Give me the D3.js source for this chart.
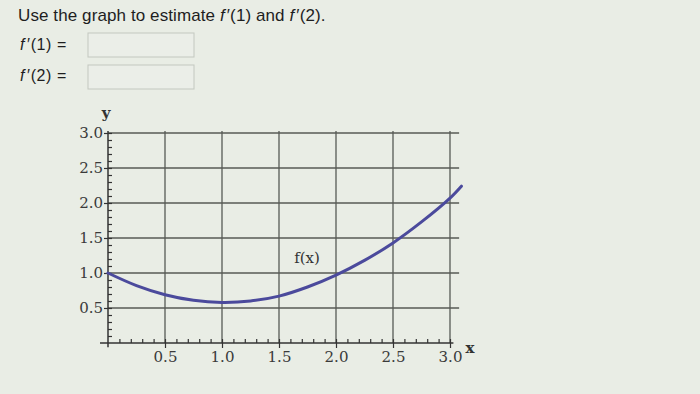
<!DOCTYPE html>
<html>
<head>
<meta charset="utf-8">
<script src="https://cdn.jsdelivr.net/npm/d3@7"></script>
<style>
  html, body { margin: 0; padding: 0; background: #e9ede5; }
  svg { display: block; }
</style>
</head>
<body>
<svg id="chart" width="700" height="394"></svg>
<script>
// ---- data ----
const curveX = [0, 0.25, 0.5, 0.75, 1.0, 1.25, 1.5, 1.75, 2.0, 2.25, 2.5, 2.75, 3.0, 3.1];
const curveY = [1.0, 0.82, 0.69, 0.61, 0.58, 0.60, 0.67, 0.80, 0.97, 1.18, 1.43, 1.73, 2.07, 2.24];
const xTicks = [0.5, 1.0, 1.5, 2.0, 2.5, 3.0];
const yTicks = [0.5, 1.0, 1.5, 2.0, 2.5, 3.0];
const xMinor = d3.range(1, 31).map(i => i / 10);
const yMinor = d3.range(1, 31).map(i => i / 10);
const curveLabel = "f(x)";
const xLabel = "x";
const yLabel = "y";
const questions = ["f′(1) =", "f′(2) ="];

const svg = d3.select("#chart");

// background
svg.append("rect").attr("width", 700).attr("height", 394).attr("fill", "#e9ede5");

// ---- question text ----
const title = svg.append("text")
  .attr("x", 18).attr("y", 21)
  .attr("font-family", "Liberation Sans, Arial, sans-serif")
  .attr("font-size", 17).attr("letter-spacing", 0.1).attr("fill", "#1e1e1e");
title.append("tspan").text("Use the graph to estimate ");
title.append("tspan").attr("font-style", "italic").text("f");
title.append("tspan").attr("dx", 2).text("′(1) and ");
title.append("tspan").attr("font-style", "italic").text("f");
title.append("tspan").attr("dx", 2).text("′(2).");

questions.forEach((q, i) => {
  const t = svg.append("text")
    .attr("x", 20).attr("y", 50 + i * 31)
    .attr("font-family", "Liberation Sans, Arial, sans-serif")
    .attr("font-size", 16).attr("letter-spacing", 0.6).attr("fill", "#1e1e1e");
  t.append("tspan").attr("font-style", "italic").text(q.slice(0, 1));
  t.append("tspan").attr("dx", 2).text(q.slice(1));
  svg.append("rect")
    .attr("x", 88).attr("y", 33 + i * 32)
    .attr("width", 106).attr("height", 24)
    .attr("fill", "#ebeee8").attr("stroke", "#c3c8c0").attr("stroke-width", 1);
});

// ---- scales ----
const x = d3.scaleLinear().domain([0, 3]).range([108, 450]);
const y = d3.scaleLinear().domain([0, 3]).range([343, 133]);

const gridColor = "#575a55";

// grid: vertical lines
svg.append("g").selectAll("line").data(xTicks).join("line")
  .attr("x1", d => x(d)).attr("x2", d => x(d))
  .attr("y1", y(0)).attr("y2", y(3.03))
  .attr("stroke", gridColor).attr("stroke-width", 1.3);

// grid: horizontal lines
svg.append("g").selectAll("line").data(yTicks).join("line")
  .attr("x1", x(0)).attr("x2", x(3.08))
  .attr("y1", d => y(d)).attr("y2", d => y(d))
  .attr("stroke", gridColor).attr("stroke-width", 1.3);

// axis lines
svg.append("line")
  .attr("x1", x(-0.07)).attr("x2", x(3.03))
  .attr("y1", y(0)).attr("y2", y(0))
  .attr("stroke", "#333").attr("stroke-width", 1.5);
svg.append("line")
  .attr("x1", x(0)).attr("x2", x(0))
  .attr("y1", y(-0.06)).attr("y2", y(3.03))
  .attr("stroke", "#333").attr("stroke-width", 1.5);

function styleAxis(g) {
  g.select(".domain").remove();
  g.selectAll(".tick line").attr("stroke", "#333").attr("stroke-width", 1.2);
  g.selectAll(".tick text")
    .attr("font-family", "DejaVu Serif, serif")
    .attr("font-size", 15).attr("fill", "#3a3a3a");
}

// minor ticks
svg.append("g").attr("transform", `translate(0,${y(0)})`)
  .call(d3.axisTop(x).tickValues(xMinor).tickSize(4).tickFormat(""))
  .call(styleAxis);
svg.append("g").attr("transform", `translate(${x(0)},0)`)
  .call(d3.axisRight(y).tickValues(yMinor).tickSize(4).tickFormat(""))
  .call(styleAxis);

// major axes with labels
svg.append("g").attr("transform", `translate(0,${y(0)})`)
  .call(d3.axisBottom(x).tickValues(xTicks).tickSize(5).tickPadding(3).tickFormat(d3.format(".1f")))
  .call(styleAxis);
svg.append("g").attr("transform", `translate(${x(0)},0)`)
  .call(d3.axisLeft(y).tickValues(yTicks).tickSize(4).tickPadding(1).tickFormat(d3.format(".1f")))
  .call(styleAxis);

// axis labels
svg.append("text").attr("x", 106).attr("y", 118)
  .attr("text-anchor", "middle")
  .attr("font-family", "DejaVu Serif, serif").attr("font-size", 15)
  .attr("font-weight", "bold").attr("fill", "#333").text(yLabel);
svg.append("text").attr("x", 470).attr("y", 353)
  .attr("text-anchor", "middle")
  .attr("font-family", "DejaVu Serif, serif").attr("font-size", 15)
  .attr("font-weight", "bold").attr("fill", "#333").text(xLabel);

// curve
const pts = curveX.map((d, i) => [d, curveY[i]]);
svg.append("path").datum(pts)
  .attr("d", d3.line().x(d => x(d[0])).y(d => y(d[1])).curve(d3.curveCatmullRom))
  .attr("fill", "none").attr("stroke", "#4b4a9c").attr("stroke-width", 3)
  .attr("stroke-linecap", "round");

// curve label
svg.append("text").attr("x", 307).attr("y", 263)
  .attr("text-anchor", "middle")
  .attr("font-family", "DejaVu Serif, serif").attr("font-size", 15)
  .attr("fill", "#333").text(curveLabel);
</script>
</body>
</html>
